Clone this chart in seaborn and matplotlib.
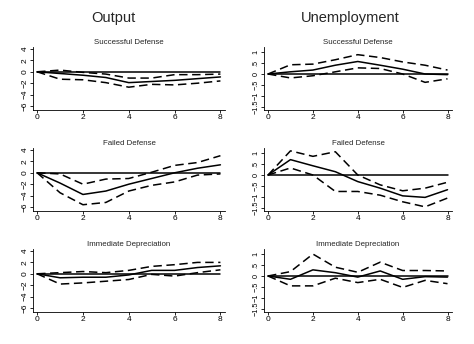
import matplotlib
matplotlib.use('Agg')
import matplotlib.pyplot as plt
import seaborn as sns

sns.set_style('ticks')
plt.rcParams['font.family'] = ['Liberation Sans', 'DejaVu Sans']

# Horizon (periods after shock)
steps = [0, 1, 2, 3, 4, 5, 6, 7, 8]

# Output responses
out_succ_mid = [0, -0.3, -0.6, -1.0, -1.9, -1.7, -1.5, -1.2, -0.9]
out_succ_hi = [0, 0.3, -0.1, -0.4, -1.1, -1.1, -0.5, -0.5, -0.4]
out_succ_lo = [0, -1.3, -1.4, -1.9, -2.7, -2.2, -2.3, -2.0, -1.6]

out_fail_mid = [0, -1.8, -3.8, -3.2, -2.0, -1.0, 0.0, 0.8, 1.4]
out_fail_hi = [0, -0.2, -2.0, -1.1, -1.0, 0.1, 1.3, 1.8, 3.0]
out_fail_lo = [0, -3.5, -5.6, -5.2, -3.2, -2.2, -1.6, -0.4, -0.2]

out_dep_mid = [0, -0.7, -0.6, -0.6, -0.2, 0.6, 0.6, 1.1, 1.4]
out_dep_hi = [0, 0.2, 0.4, 0.2, 0.6, 1.3, 1.6, 2.0, 2.0]
out_dep_lo = [0, -1.8, -1.6, -1.3, -1.0, -0.1, -0.4, 0.2, 0.7]

# Unemployment responses
un_succ_mid = [0, 0.1, 0.18, 0.4, 0.57, 0.4, 0.22, 0.0, -0.03]
un_succ_hi = [0, 0.42, 0.45, 0.65, 0.88, 0.75, 0.55, 0.4, 0.18]
un_succ_lo = [0, -0.18, -0.08, 0.1, 0.28, 0.25, 0.0, -0.38, -0.22]

un_fail_mid = [0, 0.7, 0.42, 0.15, -0.3, -0.6, -0.95, -1.02, -0.67]
un_fail_hi = [0, 1.1, 0.85, 1.06, 0.0, -0.45, -0.72, -0.6, -0.33]
un_fail_lo = [0, 0.32, 0.0, -0.75, -0.75, -0.92, -1.22, -1.45, -1.05]

un_dep_mid = [0, -0.15, 0.28, 0.15, -0.05, 0.23, -0.15, -0.03, -0.05]
un_dep_hi = [0, 0.2, 1.0, 0.4, 0.17, 0.63, 0.25, 0.25, 0.23]
un_dep_lo = [0, -0.45, -0.45, -0.1, -0.3, -0.15, -0.52, -0.2, -0.35]

row_titles = ['Successful Defense', 'Failed Defense', 'Immediate Depreciation']
col_titles = ['Output', 'Unemployment']

out_ticks = [-6, -4, -2, 0, 2, 4]
out_labels = ['\u22126', '\u22124', '\u22122', '0', '2', '4']
un_ticks = [-1.5, -1, -0.5, 0, 0.5, 1]
un_labels = ['\u22121.5', '\u22121', '\u2212.5', '0', '.5', '1']

panels = [
    [(out_succ_mid, out_succ_hi, out_succ_lo), (un_succ_mid, un_succ_hi, un_succ_lo)],
    [(out_fail_mid, out_fail_hi, out_fail_lo), (un_fail_mid, un_fail_hi, un_fail_lo)],
    [(out_dep_mid, out_dep_hi, out_dep_lo), (un_dep_mid, un_dep_hi, un_dep_lo)],
]

W, H = 474, 344
fig = plt.figure(figsize=(W / 100, H / 100), dpi=100)

col_left = [33, 264]
col_width = [192, 188]
col_title_x = [113, 350]
row_top = [47, 148, 249]
row_h = 63

for c in range(2):
    fig.text(col_title_x[c] / W, 1 - 18 / H, col_titles[c],
             ha='center', va='center', fontsize=10.5)

for r in range(3):
    for c in range(2):
        ax = fig.add_axes([col_left[c] / W, 1 - (row_top[r] + row_h) / H,
                           col_width[c] / W, row_h / H])
        mid, hi, lo = panels[r][c]
        sns.lineplot(x=steps, y=[0] * len(steps), ax=ax, color='black', lw=1.1)
        sns.lineplot(x=steps, y=mid, ax=ax, color='black', lw=1.1)
        for band in (hi, lo):
            sns.lineplot(x=steps, y=band, ax=ax, color='black', lw=1.1,
                         linestyle=(0, (5.5, 3)))
        ax.set_xlim(-0.18, 8.2)
        ax.set_xticks([0, 2, 4, 6, 8])
        if c == 0:
            ax.set_ylim(-6.7, 4.35)
            ax.set_yticks(out_ticks)
            ax.set_yticklabels(out_labels, rotation=90, va='center', fontsize=6)
        else:
            ax.set_ylim(-1.64, 1.23)
            ax.set_yticks(un_ticks)
            ax.set_yticklabels(un_labels, rotation=90, va='center', fontsize=5.2)
        ax.tick_params(axis='x', labelsize=6)
        ax.tick_params(length=2, width=0.6, pad=1, colors='black')
        for s in ('left', 'bottom'):
            ax.spines[s].set_linewidth(0.6)
            ax.spines[s].set_color('black')
        sns.despine(ax=ax)
        ax.set_title(row_titles[r], fontsize=5.7, pad=2.5)

fig.savefig('out.png', dpi=100)
